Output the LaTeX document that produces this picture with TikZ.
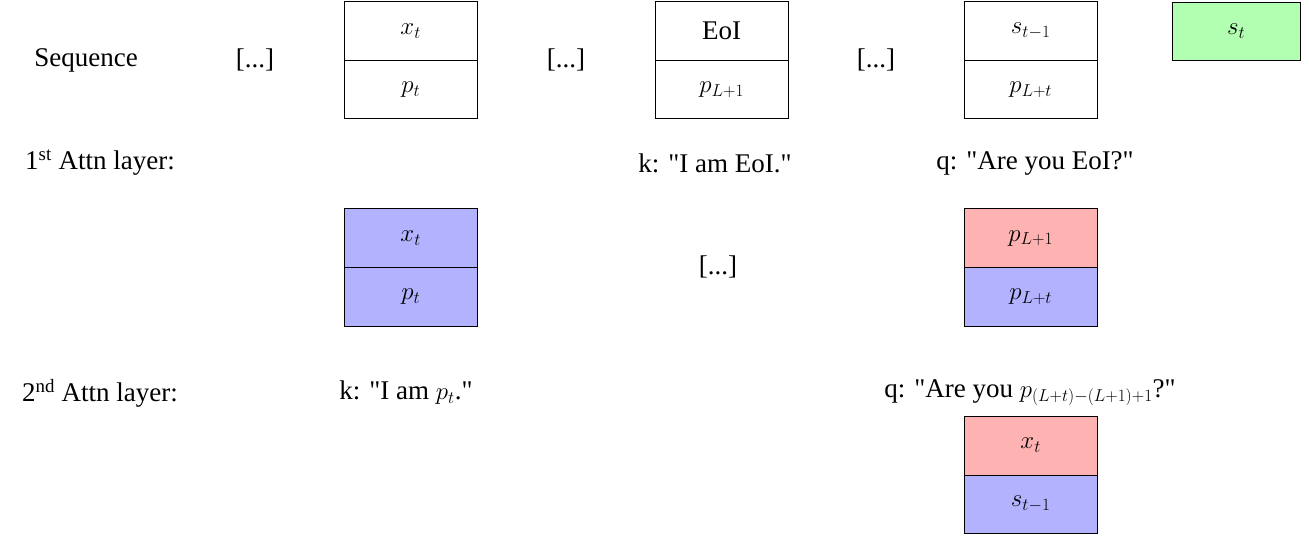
\documentclass[tikz,border=0pt]{standalone}
\usepackage{fontspec}
\setmainfont{Liberation Serif}
\newfontfamily\qf{Liberation Serif}
\newcommand{\qq}{{\qf"}}
\begin{document}
\begin{tikzpicture}[x=1pt,y=-1pt,
  fnt/.style={font=\fontsize{27}{32}\selectfont},
  cell/.style={draw,fnt,minimum width=133pt,minimum height=59pt,inner sep=0pt,anchor=north west},
  lcell/.style={cell,minimum height=58pt},
  lbl/.style={inner sep=0pt,fnt}]
\useasboundingbox (0,0) rectangle (1309,537);
\node[lbl] (seq) at (86,60) {Sequence};
\node[lbl] (d1) at (255,60) {[...]};
\node[lbl] (d2) at (566,60) {[...]};
\node[lbl] (d3) at (876,60) {[...]};
\node[cell] (a1) at (344,1.5) {$x_t$};
\node[lcell] (a2) at (344,60.5) {$p_t$};
\node[cell] (b1) at (655,1.5) {EoI};
\node[lcell] (b2) at (655,60.5) {$p_{L+1}$};
\node[cell] (c1) at (964,1.5) {$s_{t-1}$};
\node[lcell] (c2) at (964,60.5) {$p_{L+t}$};
\node[cell,fill=green!30,minimum width=128pt,minimum height=58pt] (st) at (1172,2) {$s_t$};
\node[lbl] (l1) at (100,163) {1\textsuperscript{st} Attn layer:};
\node[lbl] (k1) at (715,163) {k: \qq I am EoI.\qq};
\node[lbl] (q1) at (1035,163) {q: \qq Are you EoI?\qq};
\node[cell,fill=blue!30] (e1) at (344,208.5) {$x_t$};
\node[lcell,fill=blue!30] (e2) at (344,267.5) {$p_t$};
\node[lbl] (d4) at (718,267) {[...]};
\node[cell,fill=red!30] (f1) at (964,208.5) {$p_{L+1}$};
\node[lcell,fill=blue!30] (f2) at (964,267.5) {$p_{L+t}$};
\node[lbl] (l2) at (100,393) {2\textsuperscript{nd} Attn layer:};
\node[lbl] (k2) at (406,393) {k: \qq I am $p_t$.\qq};
\node[lbl] (q2) at (1030,393) {q: \qq Are you $p_{(L+t)-(L+1)+1}$?\qq};
\node[cell,fill=red!30] (g1) at (964,415.5) {$x_t$};
\node[lcell,fill=blue!30] (g2) at (964,474.5) {$s_{t-1}$};
\end{tikzpicture}
\end{document}
